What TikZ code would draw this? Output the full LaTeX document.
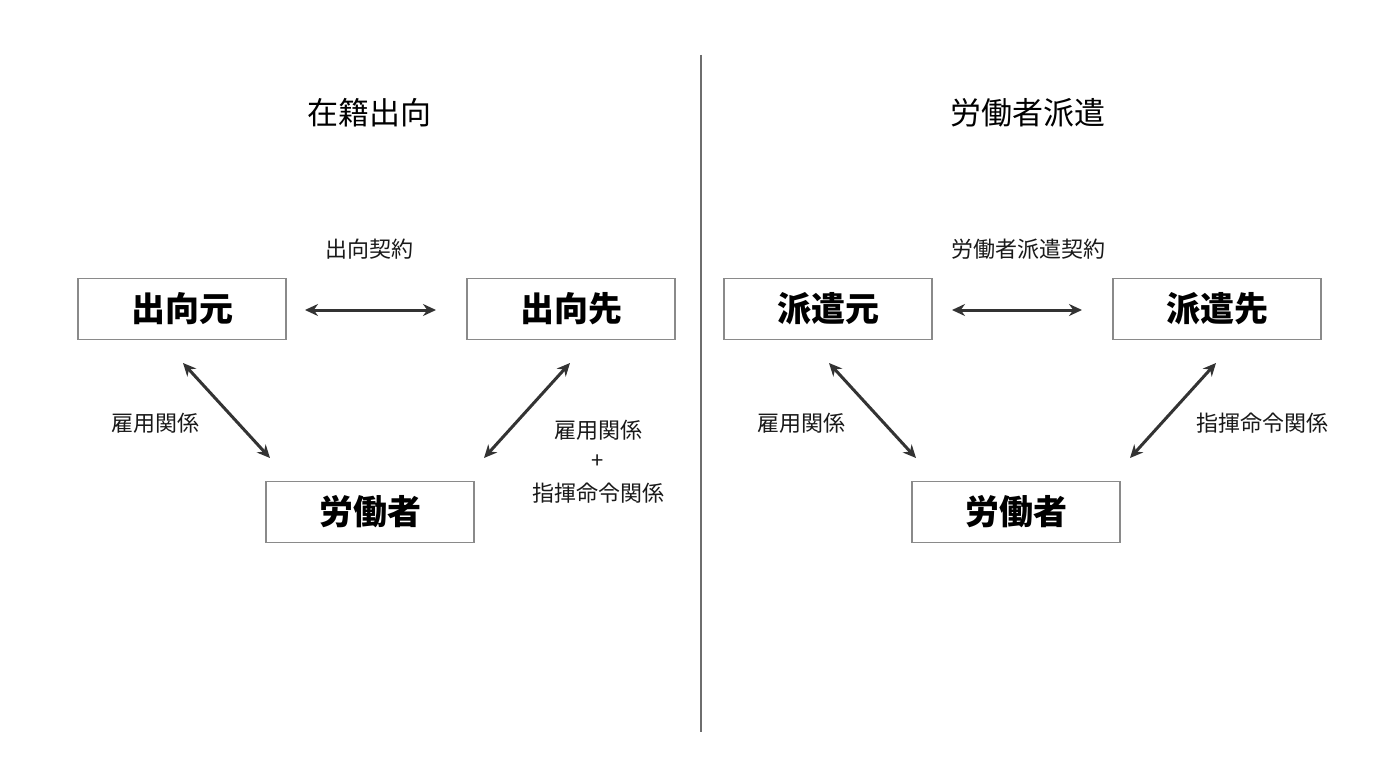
\documentclass[tikz,border=0pt]{standalone}
\usepackage{fontspec}
\setmainfont{Noto Sans CJK JP}
\usetikzlibrary{arrows.meta}
\definecolor{arr}{HTML}{333333}
\definecolor{bd}{HTML}{8A8A8A}
\tikzset{
 box/.style={draw=bd,line width=1.5pt,minimum width=208pt,minimum height=61pt,inner sep=0pt,font=\fontsize{34}{40}\selectfont\bfseries},
 lbl/.style={font=\fontsize{22}{26}\selectfont,text=black!90},
 ttl/.style={font=\fontsize{31}{36}\selectfont},
 dbl/.style={{Stealth[length=13pt,width=12pt]}-{Stealth[length=13pt,width=12pt]},line width=3pt,draw=arr}
}
\begin{document}
\begin{tikzpicture}[x=1pt,y=-1pt]
\useasboundingbox (0,0) rectangle (1400,768);
\fill[white] (0,0) rectangle (1400,768);
\draw[bd!80!black,line width=1.2pt] (701,55) coordinate (d1) -- (701,732) coordinate (d2);
% left
\node[ttl] (t1) at (369,113) {在籍出向};
\node[box] (a) at (182,309) {出向元};
\node[box] (b) at (571,309) {出向先};
\node[box] (c) at (370,512) {労働者};
\coordinate (h1) at (305,310); \coordinate (h2) at (436,310);
\draw[dbl] (h1) -- (h2);
\coordinate (l1) at (183,363); \coordinate (l2) at (270,458);
\draw[dbl] (l1) -- (l2);
\coordinate (r1) at (570,363); \coordinate (r2) at (484,458);
\draw[dbl] (r1) -- (r2);
\node[lbl] (la) at (369,249) {出向契約};
\node[lbl] (lb) at (155,423) {雇用関係};
\node[lbl] (lc) at (598,430) {雇用関係};
\node[lbl] (ld) at (598,462) {+};
\node[lbl] (le) at (598,493) {指揮命令関係};
% right
\node[ttl] (t2) at (1028,113) {労働者派遣};
\node[box] (d) at (828,309) {派遣元};
\node[box] (e) at (1217,309) {派遣先};
\node[box] (f) at (1016,512) {労働者};
\coordinate (h3) at (952,310); \coordinate (h4) at (1082,310);
\draw[dbl] (h3) -- (h4);
\coordinate (m1) at (829,363); \coordinate (m2) at (916,458);
\draw[dbl] (m1) -- (m2);
\coordinate (n1) at (1216,363); \coordinate (n2) at (1130,458);
\draw[dbl] (n1) -- (n2);
\node[lbl] (lf) at (1028,249) {労働者派遣契約};
\node[lbl] (lg) at (801,423) {雇用関係};
\node[lbl] (lh) at (1262,423) {指揮命令関係};
\end{tikzpicture}
\end{document}
